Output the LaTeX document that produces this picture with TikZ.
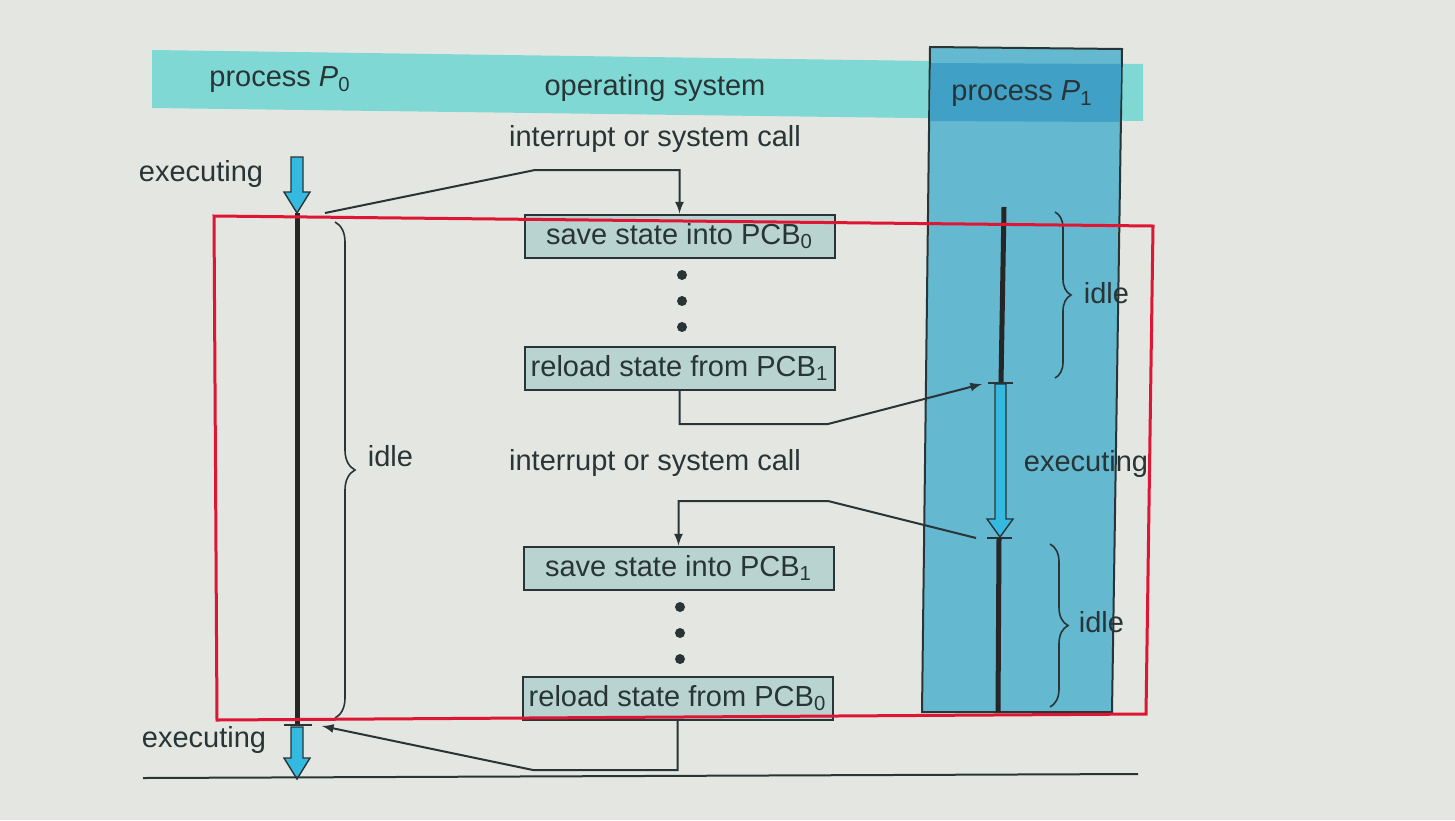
\documentclass[tikz,border=0pt]{standalone}
\usepackage{fontspec}
\setmainfont{Liberation Sans}
\usepackage{tikz}
\usetikzlibrary{arrows, decorations.pathreplacing}

\definecolor{paper}{RGB}{228,230,225}
\definecolor{band}{RGB}{128,216,212}
\definecolor{column}{RGB}{100,184,208}
\definecolor{columnhead}{RGB}{64,160,198}
\definecolor{boxfill}{RGB}{184,211,208}
\definecolor{ink}{RGB}{40,52,54}
\definecolor{runcyan}{RGB}{52,186,224}
\definecolor{markred}{RGB}{222,22,52}

\tikzset{
  txt/.style={inner sep=0.75pt, text=ink, font=\fontsize{14.5}{17}\selectfont},
  statebox/.style={txt, draw=ink, fill=boxfill, line width=1pt, minimum width=155pt, minimum height=21.5pt, inner sep=0pt},
  flow/.style={draw=ink, line width=1pt, -latex},
  lifeline/.style={draw=black!85, line width=2.5pt},
  tick/.style={draw=ink, line width=0.8pt},
  runarrow/.style={draw=ink, fill=runcyan, line width=0.7pt},
  idlebrace/.style={draw=ink, line width=0.8pt, decorate, decoration={brace, amplitude=#1}},
}

\begin{document}
\begin{tikzpicture}[x=0.5pt,y=0.5pt,yscale=-1]
\useasboundingbox (0,0) rectangle (1455,820);
\fill[paper] (0,0) rectangle (1455,820);

%Shape: header band
\fill[band] (152,50) -- (1143,64) -- (1143,121) -- (152,108) -- cycle;
%Shape: column of process P1
\draw[ink, line width=1pt, fill=column] (930,47) -- (1122,49) -- (1112,712) -- (922,712) -- cycle;
\fill[columnhead] (931,63) -- (1121,64) -- (1120,122) -- (930,121) -- cycle;

% Text Node
\node[txt] (hdzero) at (280,80) {process \textit{P}\textsubscript{0}};
% Text Node
\node[txt] (hdos) at (655,88) {operating system};
% Text Node
\node[txt] (hdone) at (1022,94) {process \textit{P}\textsubscript{1}};
% Text Node
\node[txt] (irqa) at (655,139) {interrupt or system call};
% Text Node
\node[txt] (irqb) at (655,463) {interrupt or system call};

%lifeline points
\coordinate (pzA) at (297,213);
\coordinate (pzB) at (297,725);
\coordinate (pzout) at (325,213);
\coordinate (pzin) at (322,726);
\coordinate (poA) at (1004,207);
\coordinate (poB) at (1001,383);
\coordinate (poC) at (999,538);
\coordinate (poD) at (998,712);
\coordinate (poin) at (982,384);
\coordinate (poout) at (976,538);

%Shape: process P0
\draw[runarrow] (291,157) -- (303,157) -- (303,192) -- (310,192) -- (pzA) -- (284,192) -- (291,192) -- cycle;
\draw[lifeline] (pzA) -- (pzB);
\draw[tick] (284,725) -- (312,725);
\draw[runarrow] (291,727) -- (303,727) -- (303,758) -- (310,758) -- (297,779) -- (284,758) -- (291,758) -- cycle;

%Shape: process P1
\draw[lifeline] (poA) -- (poB);
\draw[tick] (988,383) -- (1013,383);
\draw[runarrow] (995,384) -- (1006,384) -- (1006,519) -- (1013,519) -- (1000,537) -- (987,519) -- (995,519) -- cycle;
\draw[tick] (987,538) -- (1012,538);
\draw[lifeline] (poC) -- (poD);

% Text Node
\node[txt, anchor=east] (runa) at (265,174) {executing};
% Text Node
\node[txt, anchor=east] (runb) at (268,740) {executing};
% Text Node
\node[txt, anchor=west] (runc) at (1022,464) {executing};

%braces
\draw[idlebrace=10pt] (335,222) -- (335,718);
\draw[idlebrace=8pt] (1055,212) -- (1055,378);
\draw[idlebrace=9pt] (1050,544) -- (1050,707);
% Text Node
\node[txt, anchor=west] (idlea) at (366,456) {idle};
% Text Node
\node[txt, anchor=west] (idleb) at (1082,293) {idle};
% Text Node
\node[txt, anchor=west] (idlec) at (1077,622) {idle};

%state boxes
\node[statebox] (savezero) at (679.5,236) {save state into PCB\textsubscript{0}};
\node[statebox] (reloadone) at (679.5,368) {reload state from PCB\textsubscript{1}};
\node[statebox] (saveone) at (678.5,568) {save state into PCB\textsubscript{1}};
\node[statebox] (reloadzero) at (677.5,698) {reload state from PCB\textsubscript{0}};

\foreach \y in {275,301,327} \fill[ink] (682,\y) circle (5);
\foreach \y in {607,633,659} \fill[ink] (680,\y) circle (5);

%connectors
\draw[flow] (pzout) -- (535,170) -| (savezero.north);
\draw[flow] (reloadone.south) |- (828,424) -- (poin);
\draw[flow] (poout) -- (828,501) -| (saveone.north);
\draw[flow] (reloadzero.south) |- (533,770) -- (pzin);

%Shape: base line
\draw[ink, line width=1pt] (143,778) -- (1138,774);

%Shape: red frame
\draw[markred, line width=1.5pt] (214,216) -- (1153,226) -- (1146,714) -- (217,720) -- cycle;

\end{tikzpicture}
\end{document}
